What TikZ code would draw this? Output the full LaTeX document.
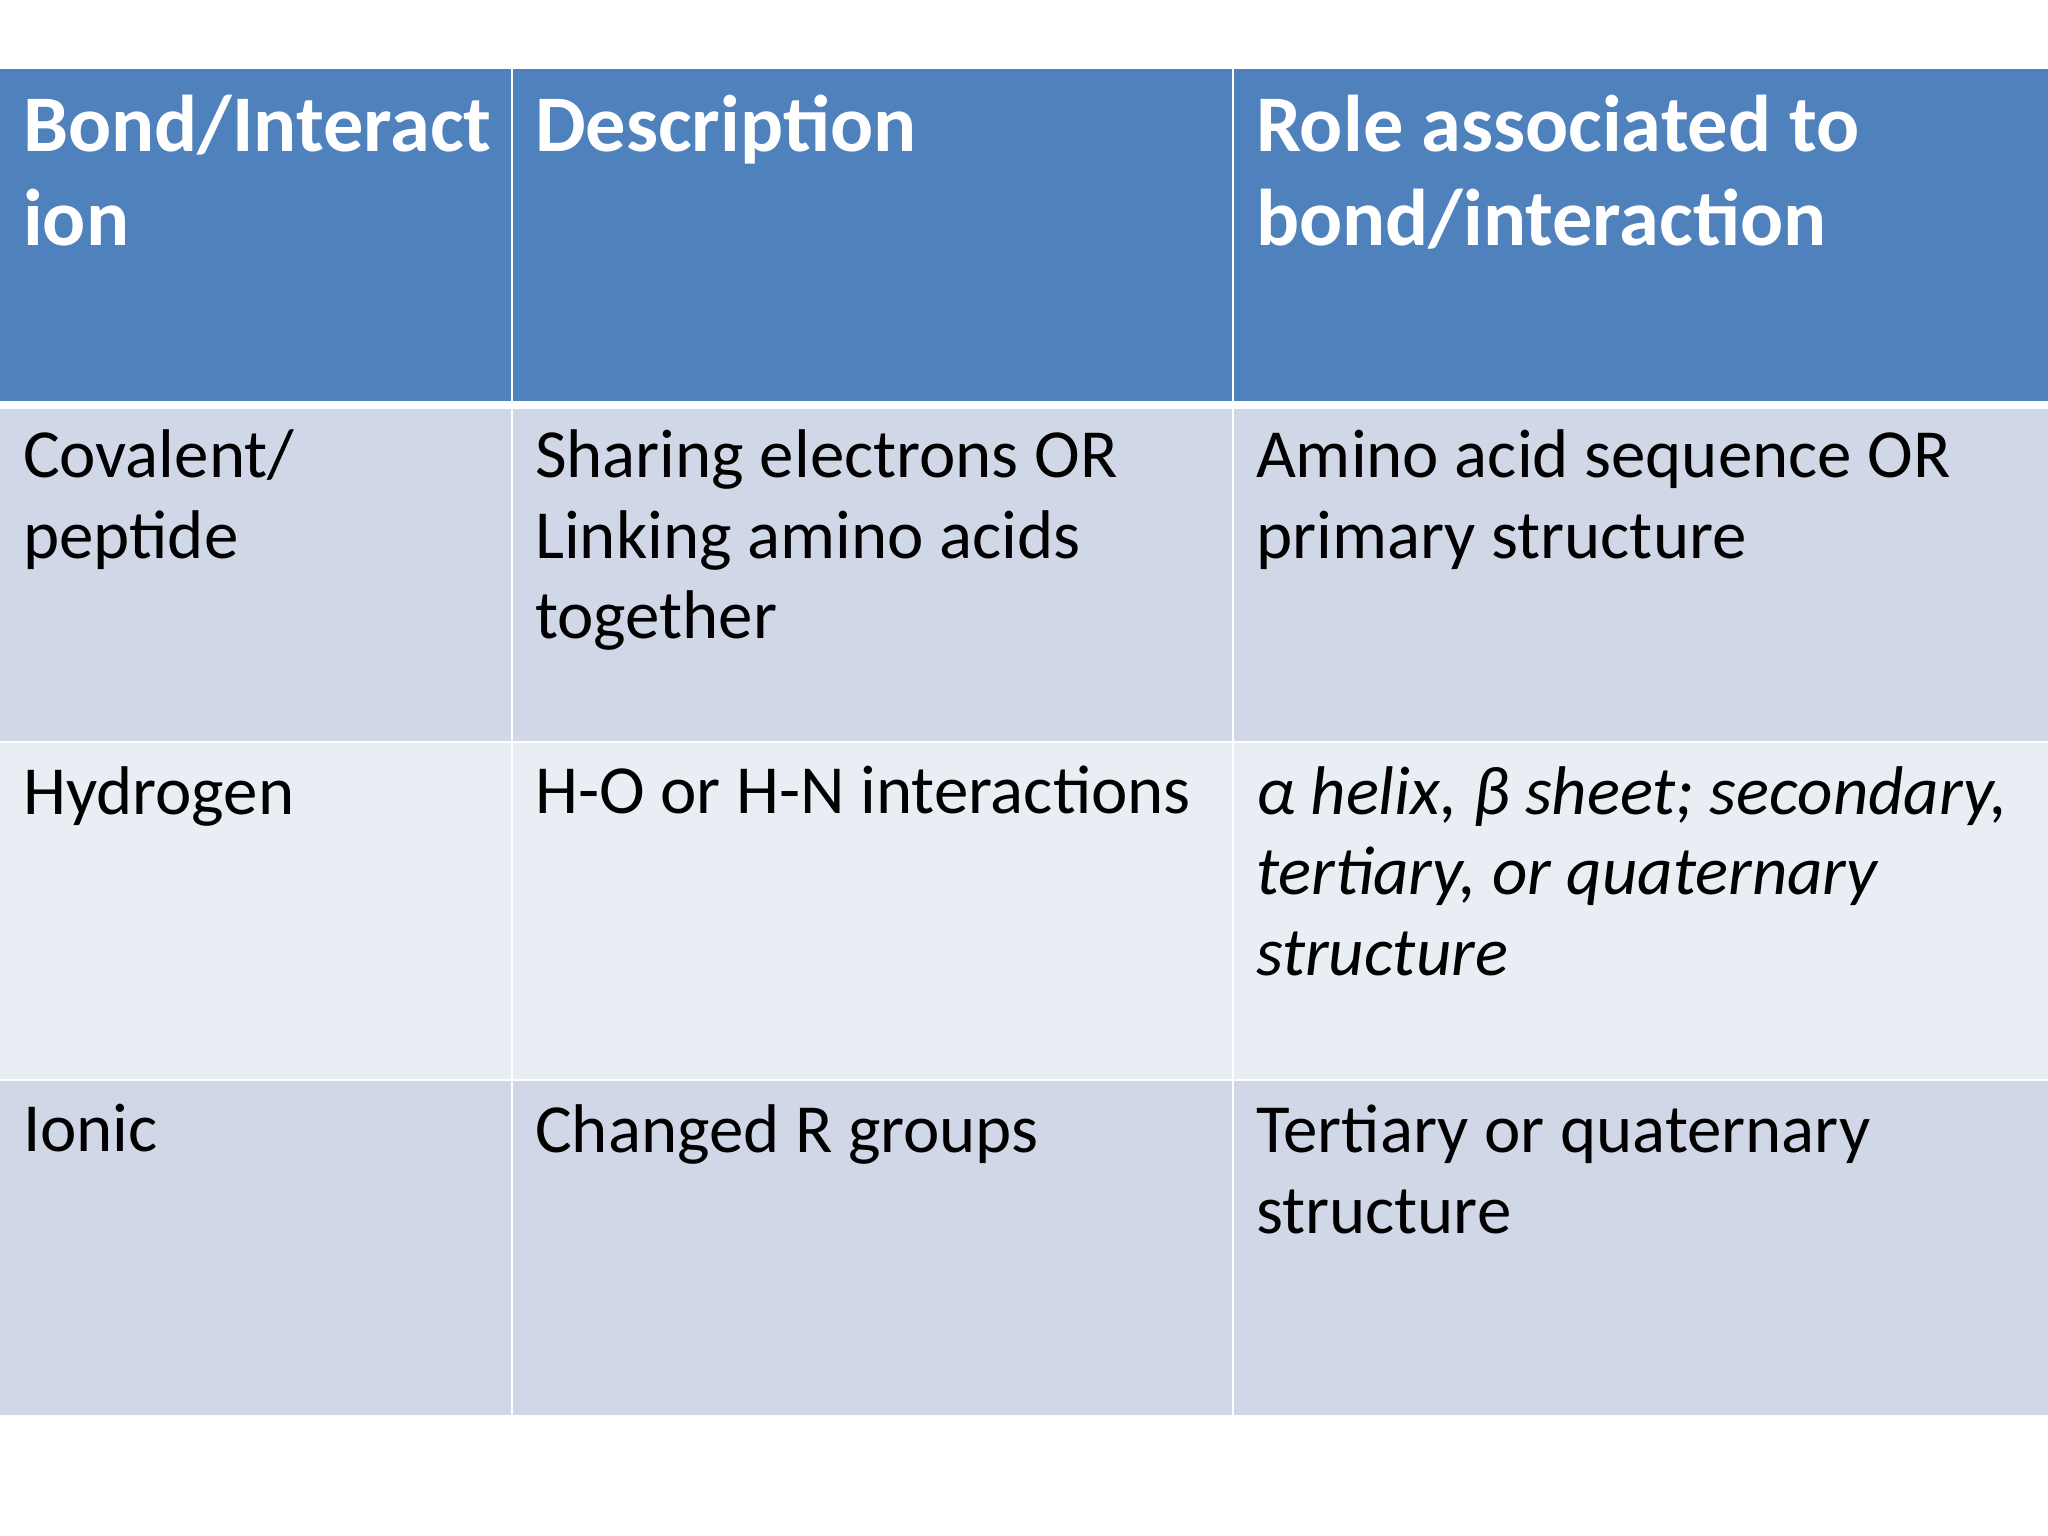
\documentclass[tikz,border=0pt]{standalone}
\usepackage{fontspec}
\setmainfont{Carlito}
\definecolor{headblue}{HTML}{4F81BD}
\definecolor{rowdark}{HTML}{D0D8E8}
\definecolor{rowlight}{HTML}{E9EDF4}
\begin{document}
\begin{tikzpicture}[
    x=0.01cm, y=-0.01cm,
    cell/.style={draw=none},
    head/.style={anchor=north west, inner sep=0pt, align=left, text=white, font=\fontsize{17.5}{20.4}\selectfont\bfseries},
    body/.style={anchor=north west, inner sep=0pt, align=left, text=black, font=\fontsize{15}{17.6}\selectfont}
]
\useasboundingbox (0,0) rectangle (1568,1176);

% Cells
\foreach \xa/\xb in {0/391, 393/943, 945/1568} {
  \fill[headblue] (\xa,53) rectangle (\xb,307);
  \fill[rowdark] (\xa,313) rectangle (\xb,567);
  \fill[rowlight] (\xa,569) rectangle (\xb,826);
  \fill[rowdark] (\xa,828) rectangle (\xb,1083);
}

% Header
\node[head] (hbond) at (17,72) {Bond/Interact\\ion};
\node[head] (hdesc) at (409,72) {Description};
\node[head] (hrole) at (961,72) {Role associated to\\bond/interaction};

% Covalent row
\node[body] (cbond) at (17,328) {Covalent/\\peptide};
\node[body] (cdesc) at (409,328) {Sharing electrons OR\\Linking amino acids\\together};
\node[body] (crole) at (961,328) {Amino acid sequence OR\\primary structure};

% Hydrogen row
\node[body] (hybond) at (17,586) {Hydrogen};
\node[body] (hydesc) at (409,586) {H-O or H-N interactions};
\node[body] (hyrole) at (961,586) {\itshape α helix, β sheet; secondary,\\\itshape tertiary, or quaternary\\\itshape structure};

% Ionic row
\node[body] (ibond) at (17,845) {Ionic};
\node[body] (idesc) at (409,845) {Changed R groups};
\node[body] (irole) at (961,845) {Tertiary or quaternary\\structure};
\end{tikzpicture}
\end{document}
